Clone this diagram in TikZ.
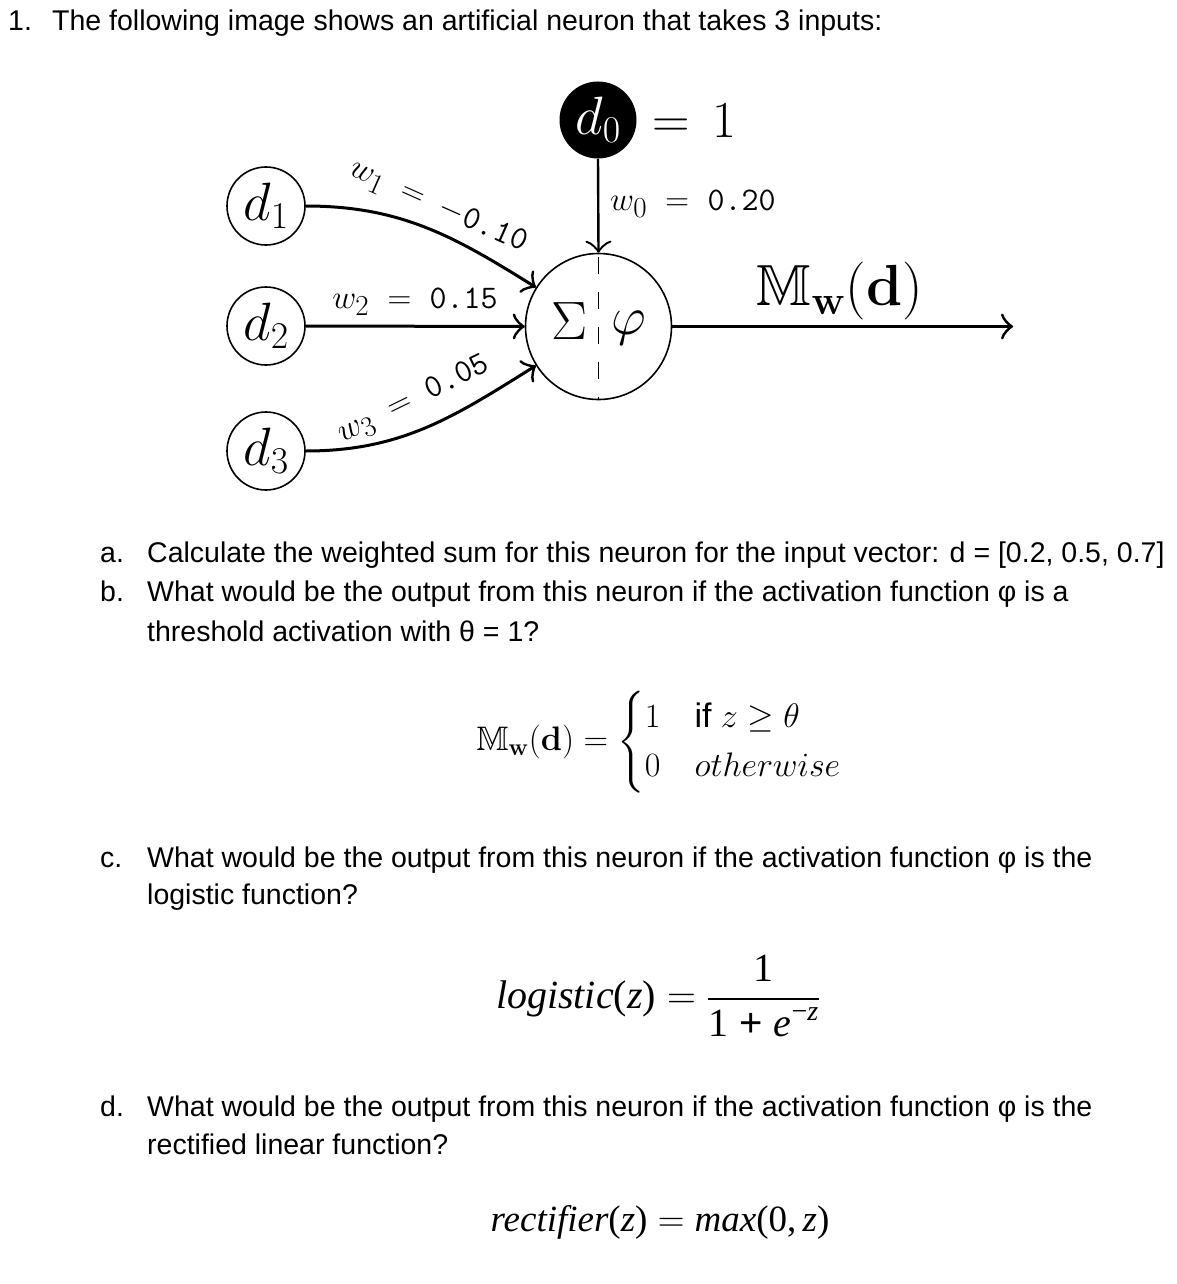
\RequirePackage{fix-cm}
\documentclass[tikz,border=0pt]{standalone}
\usepackage{amsmath,amssymb}
\DeclareFontFamily{U}{msb}{}
\DeclareFontShape{U}{msb}{m}{n}{<-6>msbm5<6-8>msbm7<8->msbm10}{}
\DeclareMathSizes{33}{33}{29}{25}
\usepackage[no-math]{fontspec}
\setmainfont{Liberation Sans}
\newfontfamily\cambria{Liberation Serif}
\newfontfamily\lmtt{Latin Modern Mono}
\usetikzlibrary{arrows.meta}
\newcommand{\ci}[1]{{\cambria\itshape #1}}
\newcommand{\cu}[1]{{\cambria #1}}
\newcommand{\wt}[1]{\text{\lmtt #1}}
\tikzset{
  txt/.style={anchor=base west, inner sep=0pt, font=\fontsize{28.5}{34}\selectfont},
  inp/.style={circle, draw, line width=1.6pt, minimum size=78pt, inner sep=0pt, font=\fontsize{54}{60}\selectfont},
  bias/.style={circle, fill=black, text=white, minimum size=77pt, inner sep=0pt, font=\fontsize{54}{60}\selectfont},
  neuron/.style={circle, draw, line width=1.6pt, minimum size=146pt, inner sep=0pt},
  conn/.style={line width=3pt, -{Classical TikZ Rightarrow[length=12pt,width=26pt]}},
  wlab/.style={inner sep=0pt, font=\fontsize{33}{40}\selectfont},
  big/.style={inner sep=0pt, font=\fontsize{54}{60}\selectfont},
  formula/.style={inner sep=0pt, font=\fontsize{40}{48}\selectfont},
}
\begin{document}
\begin{tikzpicture}[x=1pt,y=-1pt]
\useasboundingbox (0,0) rectangle (1176,1284);
% header
\node[txt] (n1) at (8,31) {1.};
\node[txt] (t1) at (52,31) {The following image shows an artificial neuron that takes 3 inputs:};
% diagram
\node[inp] (d1) at (266,206) {$d_1$};
\node[inp] (d2) at (266,326) {$d_2$};
\node[inp] (d3) at (266,451) {$d_3$};
\node[bias] (d0) at (598,120) {$d_0$};
\node[big, anchor=west, font=\fontsize{52}{60}\selectfont] (eq1) at (652,121) {$=\,1$};
\node[neuron] (nu) at (598.5,326.5) {};
\node[big] (sig) at (570,321) {$\Sigma$};
\node[big] (phi) at (629,328) {$\varphi$};
\draw[line width=1.5pt, dash pattern=on 17pt off 18pt, dash phase=-4pt] (nu.north) -- (nu.south);
\draw[conn] (d1.east) to[out=0, in=148] (nu.148);
\draw[conn] (d2.east) -- (nu.west);
\draw[conn] (d3.east) to[out=0, in=-148] (nu.-148);
\draw[conn, line width=2.4pt] (d0.south) -- (nu.north);
\coordinate (outend) at (1013,326.5);
\draw[conn] (nu.east) -- (outend);
\node[wlab, rotate=-24] (w1) at (438,207) {$w_1 \;=\; -\wt{0.10}$};
\node[wlab] (w2) at (415,302) {$w_2 \;=\; \wt{0.15}$};
\node[wlab, rotate=26] (w3) at (414,400) {$w_3 \;=\; \wt{0.05}$};
\node[wlab, anchor=west] (w0) at (610,204) {$w_0 \;=\; \wt{0.20}$};
\node[big, font=\fontsize{58}{64}\selectfont] (mout) at (840,291) {$\mathbb{M}_{\mathbf{w}}(\mathbf{d})$};
% questions a, b
\node[txt] (la) at (100,562) {a.};
\node[txt] (ta) at (147,562) {Calculate the weighted sum for this neuron for the input vector: d = [0.2, 0.5, 0.7]};
\node[txt] (lb) at (100,601) {b.};
\node[txt] (tb) at (147,601) {What would be the output from this neuron if the activation function φ is a};
\node[txt] (tb2) at (147,641) {threshold activation with θ = 1?};
\node[inner sep=0pt, font=\fontsize{34}{41}\selectfont] (f1) at (659,742)
  {$\mathbb{M}_{\mathbf{w}}(\mathbf{d}) = \begin{cases} 1 & \text{if } z \geq \theta\\ 0 & otherwise \end{cases}$};
% question c
\node[txt] (lc) at (100,867) {c.};
\node[txt] (tc) at (147,867) {What would be the output from this neuron if the activation function φ is the};
\node[txt] (tc2) at (147,904) {logistic function?};
\node[formula] (f2) at (658,996)
  {\ci{logistic}\cu{(}\ci{z}\cu{)} $=$ $\dfrac{\text{\cu{1}}}{\text{\cu{1} + \ci{e}}^{\text{\cu{−}\ci{z}}}}$};
% question d
\node[txt] (ld) at (100,1116) {d.};
\node[txt] (td) at (147,1116) {What would be the output from this neuron if the activation function φ is the};
\node[txt] (td2) at (147,1154) {rectified linear function?};
\node[formula, font=\fontsize{37}{45}\selectfont] (f3) at (660,1222)
  {\ci{rectifier}\cu{(}\ci{z}\cu{)} $=$ \ci{max}\cu{(0,}\,\ci{z}\cu{)}};
\end{tikzpicture}
\end{document}
